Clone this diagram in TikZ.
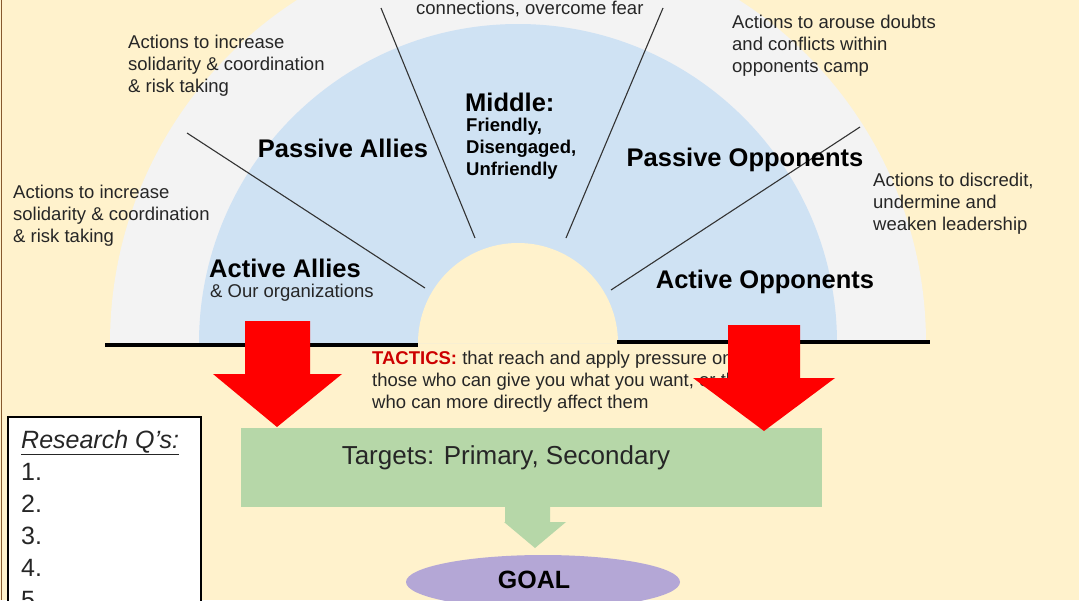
\documentclass[tikz,border=0pt]{standalone}
\usepackage{fontspec}
\setmainfont{Liberation Sans}
\usetikzlibrary{shapes.geometric}
\definecolor{bg}{HTML}{FFF2CC}
\definecolor{grayband}{HTML}{F3F3F3}
\definecolor{blueband}{HTML}{CFE2F3}
\definecolor{greenbox}{HTML}{B6D7A8}
\definecolor{goalc}{HTML}{B4A7D6}
\definecolor{redarrow}{HTML}{FF0000}
\definecolor{tacred}{HTML}{CC0000}
\tikzset{
  small/.style={font=\fontsize{18.5}{22}\selectfont, align=left, inner sep=0pt, text=black!85},
  big/.style={font=\fontsize{25.5}{28}\selectfont\bfseries, inner sep=0pt},
  radial/.style={draw=black!80, line width=1.1pt},
}
\begin{document}
\begin{tikzpicture}[x=1pt,y=-1pt]
\useasboundingbox (0,0) rectangle (1079,600);
\clip (0,0) rectangle (1079,600);
\fill[bg] (0,0) rectangle (1079,600);
\draw[color=brown!70!black, line width=1.5pt] (1.5,0) -- (1.5,600);
\coordinate (c) at (518,343);
% bands
\fill[grayband] (c) ++(-408,0) arc[start angle=180, end angle=360, radius=408] -- cycle;
\fill[blueband] (c) ++(-319,0) arc[start angle=180, end angle=360, radius=319] -- cycle;
\fill[bg] (c) ++(-100,0) arc[start angle=180, end angle=360, radius=100] -- cycle;
% baseline
\coordinate (b1) at (105,345); \coordinate (b2) at (418,345);
\coordinate (b3) at (617,342); \coordinate (b4) at (930,342);
\draw[line width=4pt] (b1) -- (b2);
\draw[line width=4pt] (b3) -- (b4);
% radial lines
\coordinate (r1a) at (187,133); \coordinate (r1b) at (425,288);
\coordinate (r2a) at (381,8);   \coordinate (r2b) at (475,238);
\coordinate (r3a) at (663,8);   \coordinate (r3b) at (566,238);
\coordinate (r4a) at (860,127); \coordinate (r4b) at (611,290);
\draw[radial] (r1a) -- (r1b);
\draw[radial] (r2a) -- (r2b);
\draw[radial] (r3a) -- (r3b);
\draw[radial] (r4a) -- (r4b);
% texts
\node[small, anchor=west] (t0) at (416,9) {connections, overcome fear};
\node[small, anchor=north west] (t1) at (128,35) {Actions to increase\\solidarity \& coordination\\\& risk taking};
\node[small, anchor=north west] (t2) at (13,185) {Actions to increase\\solidarity \& coordination\\\& risk taking};
\node[small, anchor=north west] (t3) at (732,15) {Actions to arouse doubts\\and conflicts within\\opponents camp};
\node[small, anchor=north west] (t4) at (873,173) {Actions to discredit,\\undermine and\\weaken leadership};
\node[big] (pa) at (343,148) {Passive Allies};
\node[big, anchor=west] (mid) at (465,102) {Middle:};
\node[font=\fontsize{18.5}{22}\selectfont\bfseries, align=left, inner sep=0pt, anchor=north west] (midt) at (466,118) {Friendly,\\Disengaged,\\Unfriendly};
\node[big] (po) at (745,160) {Passive Opponents};
\node[big, anchor=west] (aa) at (209,268) {Active Allies};
\node[small, anchor=west] (aat) at (210,293) {\& Our organizations};
\node[big] (ao) at (765,282) {Active Opponents};
\node[small, anchor=north west] (tac) at (372,351) {{\bfseries\color{tacred}TACTICS:} that reach and apply pressure on\\those who can give you what you want, or those\\who can more directly affect them};
% targets box
\node[fill=greenbox, minimum width=581pt, minimum height=79pt, inner sep=0pt] (tg) at (531.5,467.5) {};
\node[font=\fontsize{26}{30}\selectfont, text=black!85, inner sep=0pt] (tgt) at (506,458) {Targets: Primary, Secondary};
% green arrow
\fill[greenbox] (505,507) -- (550,507) -- (550,522) -- (566,522) -- (535,548) -- (504,522) -- (505,522) -- cycle;
% goal
\node[ellipse, fill=goalc, minimum width=274pt, minimum height=54pt, inner sep=0pt] (goal) at (543,582) {};
\node[font=\fontsize{25}{28}\selectfont\bfseries, inner sep=0pt] (goalt) at (534,580) {GOAL};
% red arrows
\fill[redarrow] (245,321) -- (310,321) -- (310,374) -- (342,374) -- (277,427) -- (213,374) -- (245,374) -- cycle;
\fill[redarrow] (728,325) -- (800,325) -- (800,378) -- (835,378) -- (764,431) -- (693,378) -- (728,378) -- cycle;
% research box
\node[draw, line width=1.6pt, fill=white, minimum width=193pt, minimum height=220pt, anchor=north west, inner sep=0pt] (rq) at (7,416) {};
\node[font=\fontsize{25}{32}\selectfont, align=left, anchor=north west, inner sep=0pt, text=black!85] (rqt) at (21,430) {\textit{\underline{Research Q's:}}\\1.\\2.\\3.\\4.\\5.};
\end{tikzpicture}
\end{document}
